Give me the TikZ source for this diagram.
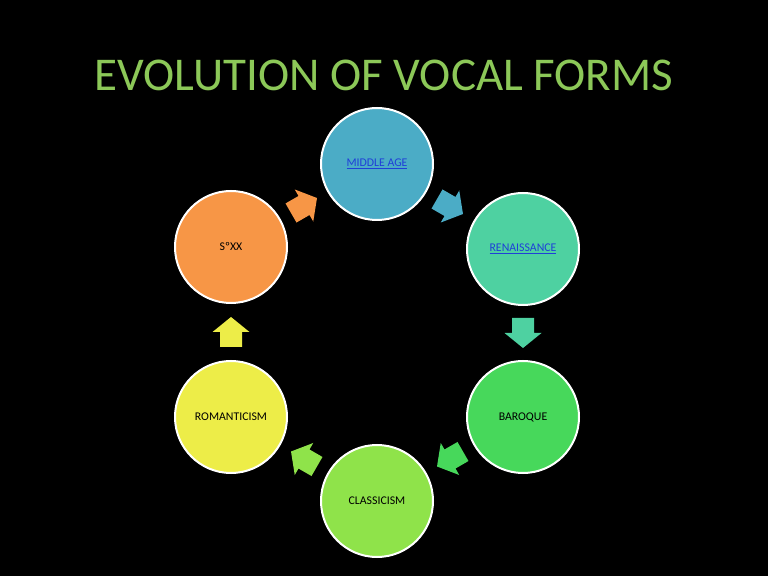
\documentclass[tikz,border=0pt]{standalone}
\usepackage{fontspec}
\setmainfont{Carlito}
\usetikzlibrary{calc}
\definecolor{ttl}{HTML}{8CC858}
\definecolor{cma}{HTML}{4BACC6}
\definecolor{cre}{HTML}{4ED1A1}
\definecolor{cba}{HTML}{47D85B}
\definecolor{ccl}{HTML}{8FE34A}
\definecolor{cro}{HTML}{EDED48}
\definecolor{csx}{HTML}{F79646}
\definecolor{linkblue}{HTML}{1F3FD8}
\begin{document}
\begin{tikzpicture}[x=1pt,y=1pt,
  stage/.style={circle, draw=white, line width=2pt, minimum size=112pt, inner sep=0pt,
    font=\fontsize{11.8}{13}\selectfont, text=black},
  flowarrow/.pic={\path[pic actions] (-15,-11) -- (0,-11) -- (0,-18.5) -- (15,0)
     -- (0,18.5) -- (0,11) -- (-15,11) -- cycle;}
]
\fill[black] (0,0) rectangle (768,576);
\useasboundingbox (0,0) rectangle (768,576);
\node[font=\fontsize{47}{52}\selectfont, text=ttl] (title) at (384,501) {EVOLUTION OF VOCAL FORMS};
\node[stage, fill=cma] (ma) at (377,412) {\textcolor{linkblue}{\underline{MIDDLE AGE}}};
\node[stage, fill=cre] (re) at (523,327) {\textcolor{linkblue}{\underline{RENAISSANCE}}};
\node[stage, fill=cba] (ba) at (523,159) {BAROQUE};
\node[stage, fill=ccl] (cl) at (377,75) {CLASSICISM};
\node[stage, fill=cro] (ro) at (231,159) {ROMANTICISM};
\node[stage, fill=csx] (sx) at (231,329) {SºXX};
\pic[fill=cma, rotate=-30] (a1) at ($(ma)!0.5!(re)$) {flowarrow};
\pic[fill=cre, rotate=-90] (a2) at ($(re)!0.5!(ba)$) {flowarrow};
\pic[fill=cba, rotate=210] (a3) at ($(ba)!0.5!(cl)$) {flowarrow};
\pic[fill=ccl, rotate=150] (a4) at ($(cl)!0.5!(ro)$) {flowarrow};
\pic[fill=cro, rotate=90] (a5) at ($(ro)!0.5!(sx)$) {flowarrow};
\pic[fill=csx, rotate=30] (a6) at ($(sx)!0.5!(ma)$) {flowarrow};
\end{tikzpicture}
\end{document}
